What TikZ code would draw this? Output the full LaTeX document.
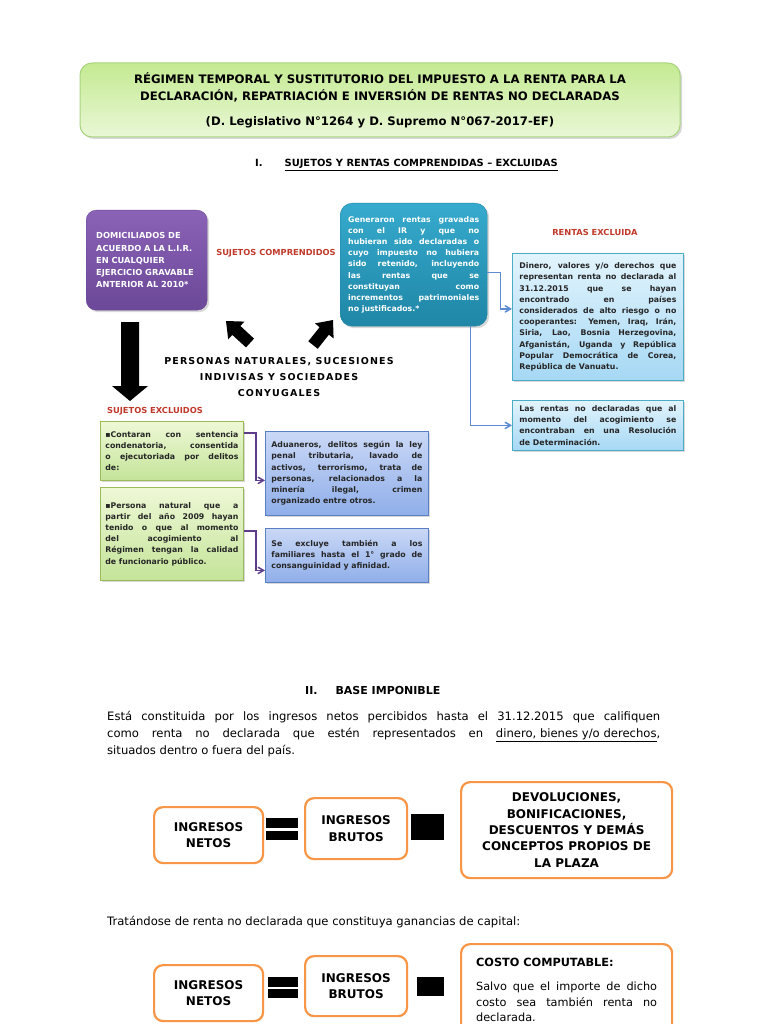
\documentclass[tikz,border=0pt]{standalone}
\usepackage{fontspec}
\setmainfont{DejaVu Sans}
\newfontfamily\spacedfont[LetterSpace=12]{DejaVu Sans}
\usepackage{xcolor}
\usepackage{tikz}
\usetikzlibrary{shapes,arrows,positioning,shadows}

\definecolor{titletop}{HTML}{C4EA92}
\definecolor{titlebot}{HTML}{E9F7D6}
\definecolor{titleline}{HTML}{A9D47E}
\definecolor{purpletop}{HTML}{8A62B6}
\definecolor{purplebot}{HTML}{6C4898}
\definecolor{tealtop}{HTML}{36AACD}
\definecolor{tealbot}{HTML}{1F86A6}
\definecolor{redlab}{HTML}{C0392B}
\definecolor{skytop}{HTML}{E2F4FD}
\definecolor{skybot}{HTML}{A6D8F4}
\definecolor{skyline}{HTML}{4BACC6}
\definecolor{lavtop}{HTML}{CAD8F6}
\definecolor{lavbot}{HTML}{8FAEE9}
\definecolor{lavline}{HTML}{5B7FC4}
\definecolor{greentop}{HTML}{EEF8D6}
\definecolor{greenbot}{HTML}{C4E499}
\definecolor{greenline}{HTML}{9BBB59}
\definecolor{orangeline}{HTML}{F79646}
\definecolor{bluecon}{HTML}{5B8BD0}
\definecolor{purplecon}{HTML}{5E3C8A}

\begin{document}
\begin{tikzpicture}[
    x=1pt, y=-1pt,
    shade/.style={drop shadow={opacity=0.3, shadow xshift=2pt, shadow yshift=-2pt}},
    titlebox/.style={rectangle, rounded corners=12pt, draw=titleline, line width=1pt, top color=titletop, bottom color=titlebot, minimum width=600, minimum height=74, align=center, font=\fontsize{11.7}{17}\selectfont\bfseries, shade},
    heading/.style={anchor=west, inner sep=0pt, font=\fontsize{9.9}{11}\selectfont\bfseries},
    redlabel/.style={inner sep=0pt, text=redlab, font=\fontsize{8.3}{10}\selectfont\bfseries},
    smalltext/.style={font=\fontsize{7.8}{11.2}\selectfont\bfseries},
    purplebox/.style={rectangle, anchor=north west, rounded corners=10pt, draw=purplebot, top color=purpletop, bottom color=purplebot, minimum width=121, minimum height=100, text width=101pt, inner xsep=10pt, align=left, text=white, font=\fontsize{8.3}{12.2}\selectfont\bfseries, shade},
    tealbox/.style={rectangle, anchor=north west, rounded corners=12pt, draw=tealbot, top color=tealtop, bottom color=tealbot, minimum width=147, minimum height=123, text width=131pt, inner xsep=8pt, align=justify, text=white, smalltext, shade},
    skybox/.style={rectangle, anchor=north west, draw=skyline, line width=0.8pt, top color=skytop, bottom color=skybot, minimum width=171, text width=157pt, inner xsep=7pt, align=justify, text=black!85, smalltext, shade},
    greenbox/.style={rectangle, anchor=north west, draw=greenline, line width=0.8pt, top color=greentop, bottom color=greenbot, minimum width=143, text width=133pt, inner xsep=5pt, align=justify, text=black!85, smalltext, shade},
    lavbox/.style={rectangle, anchor=north west, draw=lavline, line width=0.8pt, top color=lavtop, bottom color=lavbot, minimum width=163, text width=151pt, inner xsep=6pt, align=justify, text=black!85, smalltext, shade},
    orangebox/.style={rectangle, anchor=north west, rounded corners=9pt, draw=orangeline, line width=2.2pt, fill=white, align=center, inner sep=0pt, font=\fontsize{12}{16.3}\selectfont\bfseries},
    bodytext/.style={inner sep=0pt, font=\fontsize{11.6}{17}\selectfont},
    bluearrow/.style={->, >=angle 60, draw=bluecon, line width=1.5pt},
    purplearrow/.style={->, >=angle 60, draw=purplecon, line width=1.5pt}
]
\path[fill=white, use as bounding box] (0,0) rectangle (768,1024);

% Title
\node[titlebox] (title) at (380,100) {R\'EGIMEN TEMPORAL Y SUSTITUTORIO DEL IMPUESTO A LA RENTA PARA LA\\DECLARACI\'ON, REPATRIACI\'ON E INVERSI\'ON DE RENTAS NO DECLARADAS\\[8pt](D. Legislativo N°1264 y D. Supremo N°067-2017-EF)};

% Section I
\node[heading] (sec1) at (255,165) {I.\hspace{22pt}\underline{SUJETOS Y RENTAS COMPRENDIDAS – EXCLUIDAS}};

% Sujetos comprendidos
\node[purplebox] (domic) at (86,210) {DOMICILIADOS DE\\ACUERDO A LA L.I.R.\\EN CUALQUIER\\EJERCICIO GRAVABLE\\ANTERIOR AL 2010*};
\node[redlabel] (comp) at (276,253) {SUJETOS COMPRENDIDOS};
\node[tealbox] (gener) at (340,203) {Generaron rentas gravadas\linebreak con el IR y que no\linebreak hubieran sido declaradas o\linebreak cuyo impuesto no hubiera\linebreak sido retenido, incluyendo\linebreak las rentas que se\linebreak constituyan como\linebreak incrementos patrimoniales\linebreak no justificados.*};

% Rentas excluidas
\node[redlabel] (rexcl) at (595,232) {RENTAS EXCLUIDA};
\node[skybox, minimum height=127] (dinero) at (512,253) {Dinero, valores y/o derechos que\linebreak representan renta no declarada al\linebreak 31.12.2015 que se hayan\linebreak encontrado en pa\'ises\linebreak considerados de alto riesgo o no\linebreak cooperantes: Yemen, Iraq, Ir\'an,\linebreak Siria, Lao, Bosnia Herzegovina,\linebreak Afganist\'an, Uganda y Rep\'ublica\linebreak Popular Democr\'atica de Corea,\linebreak Rep\'ublica de Vanuatu.};
\node[skybox, minimum height=50] (resol) at (512,400) {Las rentas no declaradas que al\linebreak momento del acogimiento se\linebreak encontraban en una Resoluci\'on\linebreak de Determinaci\'on.};

% Personas
\node[align=center, inner sep=0pt, font=\spacedfont\bfseries\fontsize{9.5}{16}\selectfont] (personas) at (279,377) {PERSONAS NATURALES, SUCESIONES\\INDIVISAS Y SOCIEDADES\\CONYUGALES};

% Block arrows
\fill[black] (121,322) -- (139,322) -- (139,386) -- (148,386) -- (130,401) -- (112,386) -- (121,386) -- cycle;
\fill[black] (254.0,338.6) -- (240.4,326.0) -- (244.4,321.6) -- (226,321) -- (228.2,339.3) -- (232.3,334.9) -- (246.0,347.4) -- cycle;
\fill[black] (317.7,348.8) -- (328.9,334.7) -- (333.6,338.4) -- (333,320) -- (314.9,323.4) -- (319.6,327.2) -- (308.3,341.3) -- cycle;

% Sujetos excluidos
\node[redlabel] (sexcl) at (155,411) {SUJETOS EXCLUIDOS};
\node[greenbox, minimum height=59] (condena) at (100,421) {▪Contaran con sentencia\linebreak condenatoria, consentida\linebreak o ejecutoriada por delitos\linebreak de:};
\node[greenbox, minimum height=93] (funcion) at (100,487) {▪Persona natural que a\linebreak partir del a\~no 2009 hayan\linebreak tenido o que al momento\linebreak del acogimiento al\linebreak R\'egimen tengan la calidad\linebreak de funcionario p\'ublico.};
\node[lavbox, minimum height=84] (delitos) at (265,431) {Aduaneros, delitos seg\'un la ley\linebreak penal tributaria, lavado de\linebreak activos, terrorismo, trata de\linebreak personas, relacionados a la\linebreak miner\'ia ilegal, crimen\linebreak organizado entre otros.};
\node[lavbox, minimum height=54] (famil) at (265,528) {Se excluye tambi\'en a los\linebreak familiares hasta el 1° grado de\linebreak consanguinidad y afinidad.};

% Connectors
\draw[bluearrow] ([yshift=-8]gener.east) -- ++(13,0) |- ([yshift=8]dinero.west);
\draw[bluearrow] ([xshift=57]gener.south) |- (resol.west);
\draw[purplearrow] ([yshift=18]condena.east) -- ++(12,0) |- ([yshift=-7]delitos.west);
\draw[purplearrow] ([yshift=3]funcion.east) -- ++(12,0) |- ([yshift=-15]famil.west);

% Section II
\node[heading, font=\fontsize{11}{13}\selectfont\bfseries] (sec2) at (305,690) {II.\hspace{18pt}BASE IMPONIBLE};
\node[bodytext, anchor=north west, text width=553pt, align=justify] (parr) at (107,711) {Est\'a constituida por los ingresos netos percibidos hasta el 31.12.2015 que califiquen\linebreak como renta no declarada que est\'en representados en \underline{dinero, bienes y/o derechos},\linebreak situados dentro o fuera del pa\'is.};

% First formula
\node[orangebox, minimum width=109, minimum height=56] (netos1) at (153,806) {INGRESOS\\NETOS};
\node[orangebox, minimum width=102, minimum height=61] (brutos1) at (304,797) {INGRESOS\\BRUTOS};
\node[orangebox, minimum width=211, minimum height=96] (devol) at (460,781) {DEVOLUCIONES,\\BONIFICACIONES,\\DESCUENTOS Y DEM\'AS\\CONCEPTOS PROPIOS DE\\LA PLAZA};
\fill[black] (266,818) rectangle (298,828);
\fill[black] (266,831) rectangle (298,840);
\fill[black] (411,814) rectangle (444,840);

% Second formula
\node[bodytext, anchor=west] (trat) at (107,922) {Trat\'andose de renta no declarada que constituya ganancias de capital:};
\node[orangebox, minimum width=109, minimum height=56] (netos2) at (153,964) {INGRESOS\\NETOS};
\node[orangebox, minimum width=102, minimum height=60] (brutos2) at (304,955) {INGRESOS\\BRUTOS};
\node[orangebox, minimum width=211, minimum height=92, text width=181pt, inner xsep=15pt, align=justify, font=\fontsize{11.3}{15.5}\selectfont] (costo) at (460,943) {\textbf{COSTO COMPUTABLE:}\\[9pt]Salvo que el importe de dicho\linebreak costo sea tambi\'en renta no\linebreak declarada.};
\fill[black] (268,977) rectangle (298,987);
\fill[black] (268,989) rectangle (298,998);
\fill[black] (417,977) rectangle (444,996);

\end{tikzpicture}
\end{document}
